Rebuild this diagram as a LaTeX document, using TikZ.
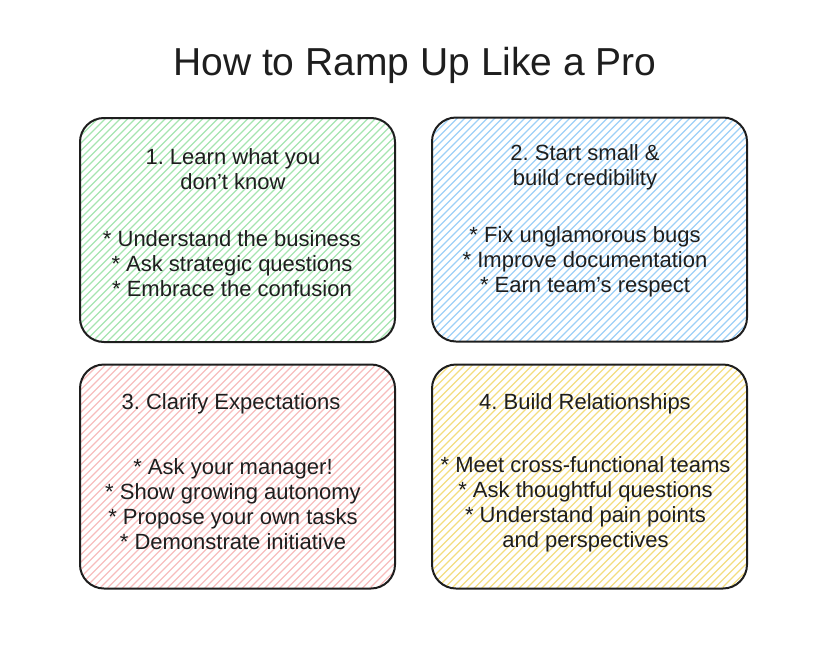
\documentclass[tikz,border=0pt]{standalone}
\usepackage{fontspec}
\setmainfont{Liberation Sans}
\usetikzlibrary{positioning}

\definecolor{ink}{HTML}{1E1E1E}
\definecolor{hgreen}{HTML}{A6E5B1}
\definecolor{hblue}{HTML}{9DD0F7}
\definecolor{hpink}{HTML}{F7BDBD}
\definecolor{hyellow}{HTML}{F3DD80}

\begin{document}
\frenchspacing
\begin{tikzpicture}[
    x = 0.5pt, y = -0.5pt,
    card/.style = {rectangle, draw=ink, line width=1pt, rounded corners=12pt,
        minimum width=157.5pt, minimum height=112pt,
        path picture={\foreach \k in {-114,-110.25,...,159}
            \draw[#1, line width=0.55pt] ([xshift=\k pt]path picture bounding box.south west) -- ++(116pt,116pt);}},
    cardtext/.style = {align=center, text=ink, font=\fontsize{11}{12.5}\selectfont},
    heading/.style = {text=ink, font=\fontsize{19.5}{23}\selectfont}
]
\useasboundingbox (0,0) rectangle (839,664);

% Title
\node[heading] (title) at (415,65) {How to Ramp Up Like a Pro};

% Cards
\node[card=hgreen] (learn) at (237.5,230) {};
\node[card=hblue] (start) at (589.5,229.5) {};
\node[card=hpink] (clarify) at (237.5,476.5) {};
\node[card=hyellow] (build) at (589.5,476.5) {};

% Card texts
\node[cardtext] (learnhead) at (233,169.5) {1. Learn what you\\don’t know};
\node[cardtext] (learnlist) at (232,264) {* Understand the business\\* Ask strategic questions\\* Embrace the confusion};

\node[cardtext] (starthead) at (585,167.5) {2. Start small \&\\build credibility};
\node[cardtext] (startlist) at (585,262) {* Fix unglamorous bugs\\* Improve documentation\\* Earn team’s respect};

\node[cardtext] (clarifyhead) at (231,404) {3. Clarify Expectations};
\node[cardtext] (clarifylist) at (233,504.5) {* Ask your manager!\\* Show growing autonomy\\* Propose your own tasks\\* Demonstrate initiative};

\node[cardtext] (buildhead) at (585,404) {4. Build Relationships};
\node[cardtext] (buildlist) at (585.5,504.5) {* Meet cross-functional teams\\* Ask thoughtful questions\\* Understand pain points\\and perspectives};

\end{tikzpicture}
\end{document}
